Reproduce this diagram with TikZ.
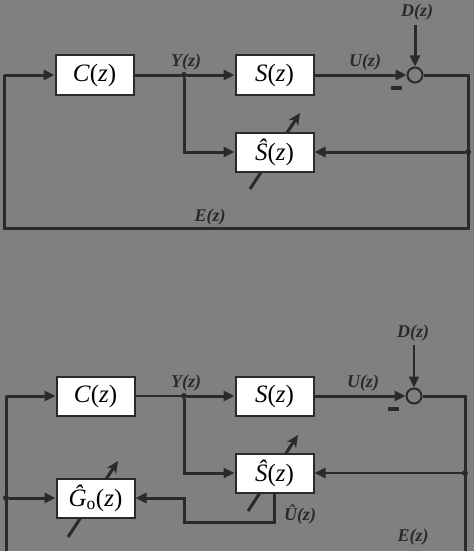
\documentclass[tikz,border=0pt]{standalone}
\usepackage{fontspec}
\setmainfont{Liberation Serif}
\usetikzlibrary{arrows.meta,shadows}
\definecolor{bg}{HTML}{808080}
\definecolor{ln}{HTML}{2A2A2A}
\begin{document}
\begin{tikzpicture}[x=1pt,y=-1pt,
 blk/.style={draw=ln, line width=2pt, fill=white, minimum width=78pt, minimum height=39pt, inner sep=0pt,
   font=\fontsize{25}{27}\selectfont,
   drop shadow={shadow xshift=1.5pt,shadow yshift=-1.5pt,fill=ln,opacity=1}},
 sig/.style={font=\fontsize{18}{20}\selectfont\itshape\bfseries, text=ln, inner sep=0pt},
 minus/.style={text=ln, inner sep=0pt},
 wire/.style={draw=ln, line width=3pt},
 thin/.style={line width=1.8pt},
 arr/.style={wire, -{Triangle[length=11pt,width=10pt]}},
 sumc/.style={circle, draw=ln, line width=2pt, fill=bg, minimum size=15pt, inner sep=0pt},
 dot/.style={circle, fill=ln, minimum size=6pt, inner sep=0pt},
 adapt/.style={draw=ln, line width=3pt, -{Stealth[length=12pt,width=11pt]}}
]
\fill[bg] (0,0) rectangle (474,551);
\useasboundingbox (0,0) rectangle (474,551);

% ---------- top diagram ----------
\coordinate (tl) at (4,75);
\coordinate (tlb) at (4,228);
\coordinate (trb) at (468,228);
\coordinate (tr) at (468,75);
\coordinate (td) at (415,25);
\coordinate (a1s) at (250,189);
\coordinate (a1e) at (300,113);
\draw[adapt] (a1s) -- (a1e);

\node[blk] (C1) at (94.5,75) {\textit{C}(\textit{z})};
\node[blk] (S1) at (274.5,75) {\textit{S}(\textit{z})};
\node[blk] (H1) at (274.5,152) {\textit{Ŝ}(\textit{z})};
\node[sumc] (sum1) at (415,75) {};
\node[dot] (y1) at (184,75) {};
\node[dot] (e1) at (468,152) {};

\draw[arr] (tl) -- (C1.west);
\draw[wire] (C1.east) -- (y1);
\draw[arr] (y1) -- (S1.west);
\draw[arr] (S1.east) -- (sum1.west);
\draw[wire] (sum1.east) -- (tr) -- (trb) -- (tlb) -- (tl);
\draw[arr] (y1) |- (H1.west);
\draw[arr] (e1) -- (H1.east);
\draw[arr] (td) -- (sum1.north);

\node[sig] (Y1l) at (186,62) {Y(z)};
\node[sig] (U1l) at (365,62) {U(z)};
\node[sig] (D1l) at (417,12) {D(z)};
\node[sig] (E1l) at (210,217) {E(z)};
\node[minus] (m1) at (396,88) {\rule{11pt}{3.5pt}};

% ---------- bottom diagram ----------
\coordinate (tl2) at (6,396);
\coordinate (bl2) at (6,551);
\coordinate (tr2) at (465,396);
\coordinate (br2) at (465,551);
\coordinate (td2) at (414,345);
\coordinate (u1) at (184,522);
\coordinate (a2s) at (248,511);
\coordinate (a2e) at (298,435);
\coordinate (a3s) at (68,537);
\coordinate (a3e) at (118,461);
\draw[adapt] (a2s) -- (a2e);
\draw[adapt] (a3s) -- (a3e);

\node[blk] (C2) at (95.5,396) {\textit{C}(\textit{z})};
\node[blk] (S2) at (274.5,396) {\textit{S}(\textit{z})};
\node[blk] (H2) at (274.5,473) {\textit{Ŝ}(\textit{z})};
\node[blk] (G2) at (95.5,498) {\textit{Ĝ}\textsubscript{o}(\textit{z})};
\node[sumc] (sum2) at (414,396) {};
\node[dot] (y2) at (184,396) {};
\node[dot] (e2) at (465,473) {};
\node[dot] (g2) at (6,498) {};

\draw[wire] (tl2) -- (bl2);
\draw[arr] (tl2) -- (C2.west);
\draw[wire,thin] (C2.east) -- (y2);
\draw[arr] (y2) -- (S2.west);
\draw[arr] (S2.east) -- (sum2.west);
\draw[wire] (sum2.east) -- (tr2) -- (br2);
\draw[arr] (y2) |- (H2.west);
\draw[arr,thin] (e2) -- (H2.east);
\draw[arr,thin] (td2) -- (sum2.north);
\draw[arr] (g2) -- (G2.west);
\draw[arr] (H2.south) |- (u1) |- (G2.east);

\node[sig] (Y2l) at (186,383) {Y(z)};
\node[sig] (U2l) at (363,383) {U(z)};
\node[sig] (D2l) at (413,333) {D(z)};
\node[sig] (Uh2l) at (300,515) {Û(z)};
\node[sig] (E2l) at (413,537) {E(z)};
\node[minus] (m2) at (393,409) {\rule{11pt}{3.5pt}};
\end{tikzpicture}
\end{document}
